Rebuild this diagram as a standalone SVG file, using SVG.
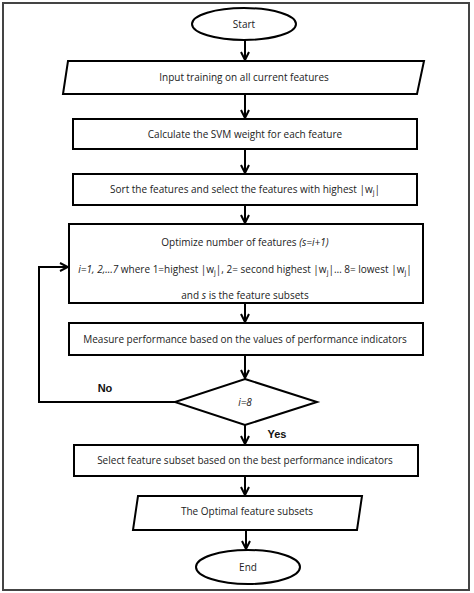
<svg xmlns="http://www.w3.org/2000/svg" width="474" height="593" viewBox="0 0 474 593">
<defs>
<style>
.s{fill:#fff;stroke:#000;stroke-width:2}
.c{fill:none;stroke:#000;stroke-width:2}
.t{font-family:"Open Sans","Liberation Sans",sans-serif;font-size:10px;fill:#222;text-anchor:middle}
.b{font-family:"Liberation Sans",sans-serif;font-size:11px;font-weight:bold;fill:#111;text-anchor:middle}
.i{font-style:italic}
</style>
<marker id="a" viewBox="0 0 10 10" refX="9" refY="5" markerWidth="10" markerHeight="10" markerUnits="userSpaceOnUse" orient="auto">
<polyline points="1,1 9,5 1,9" fill="none" stroke="#000" stroke-width="2"/>
</marker>
</defs>
<rect width="474" height="593" fill="#fff"/>
<rect x="3" y="3" width="466" height="587" fill="none" stroke="#444" stroke-width="2"/>
<g id="connectors">
<line class="c" x1="245" y1="40" x2="245" y2="60" marker-end="url(#a)"/>
<line class="c" x1="245" y1="94" x2="245" y2="118" marker-end="url(#a)"/>
<line class="c" x1="245" y1="149" x2="245" y2="173" marker-end="url(#a)"/>
<line class="c" x1="245" y1="205" x2="245" y2="223" marker-end="url(#a)"/>
<line class="c" x1="245" y1="303" x2="245" y2="322" marker-end="url(#a)"/>
<line class="c" x1="245" y1="355" x2="245" y2="378" marker-end="url(#a)"/>
<polyline class="c" points="175,402 39,402 39,267 68,267" marker-end="url(#a)"/>
<line class="c" x1="245" y1="425" x2="245" y2="444" marker-end="url(#a)"/>
<line class="c" x1="245" y1="476" x2="245" y2="495" marker-end="url(#a)"/>
<line class="c" x1="246" y1="530" x2="246" y2="549" marker-end="url(#a)"/>
<text class="b" x="105" y="392">No</text>
<text class="b" x="277" y="438">Yes</text>
</g>
<g id="start">
<ellipse class="s" cx="244" cy="24" rx="52" ry="16"/>
<text class="t" x="244" y="28">Start</text>
</g>
<g id="input">
<polygon class="s" points="68,61 424,61 417,94 63,94"/>
<text class="t" x="244" y="81">Input training on all current features</text>
</g>
<g id="calc">
<rect class="s" x="73" y="119" width="344" height="30"/>
<text class="t" x="245" y="138">Calculate  the SVM weight for each feature</text>
</g>
<g id="sort">
<rect class="s" x="73" y="174" width="344" height="31"/>
<text class="t" x="245" y="193">Sort the features and select the features with highest |w<tspan font-size="7" dy="2">j</tspan><tspan dy="-2">|</tspan></text>
</g>
<g id="optimize">
<rect class="s" x="69" y="224" width="354" height="79"/>
<text class="t" x="245" y="246">Optimize number of features <tspan class="i">(s=i+1)</tspan></text>
<text class="t" x="245" y="273"><tspan class="i">i=1, 2,…7</tspan> where 1=highest |w<tspan font-size="7" dy="2">j</tspan><tspan dy="-2">|, 2= second highest |w</tspan><tspan font-size="7" dy="2">j</tspan><tspan dy="-2">|… 8= lowest |w</tspan><tspan font-size="7" dy="2">j</tspan><tspan dy="-2">|</tspan></text>
<text class="t" x="245" y="299">and <tspan class="i">s</tspan> is the feature subsets</text>
</g>
<g id="measure">
<rect class="s" x="69" y="323" width="354" height="32"/>
<text class="t" x="245" y="343">Measure  performance  based  on the values of performance  indicators</text>
</g>
<g id="decision">
<polygon class="s" points="245,379 317,402 245,425 175,402"/>
<text class="t i" x="245" y="406" fill="#555">i=8</text>
</g>
<g id="select">
<rect class="s" x="74" y="445" width="344" height="31"/>
<text class="t" x="245" y="464">Select feature subset based on the best performance  indicators</text>
</g>
<g id="optimal">
<polygon class="s" points="138,496 362,496 357,530 133,530"/>
<text class="t" x="247" y="515">The Optimal feature subsets</text>
</g>
<g id="end">
<ellipse class="s" cx="248" cy="567" rx="52" ry="17"/>
<text class="t" x="248" y="571">End</text>
</g>
</svg>
